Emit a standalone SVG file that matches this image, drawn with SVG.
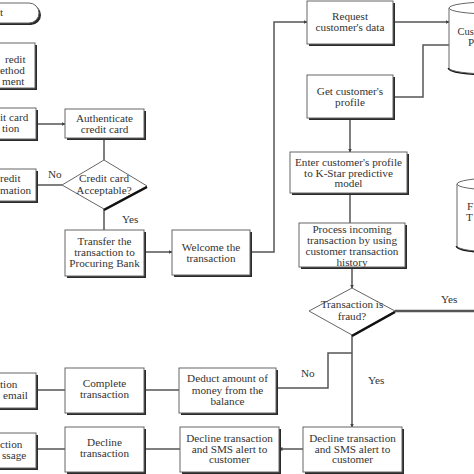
<svg xmlns="http://www.w3.org/2000/svg" width="474" height="474" viewBox="0 0 474 474">
<defs>
<marker id="ar" markerWidth="4" markerHeight="4" refX="3.5" refY="2" orient="auto" markerUnits="userSpaceOnUse"><path d="M0,0 L4,2 L0,4 Z" fill="#444"/></marker>
</defs>
<style>
.box{fill:#fff;stroke:#666;stroke-width:1}
.sh{fill:#2a2a2a}
.t{font-family:"Liberation Serif","Times New Roman",serif;font-size:11.2px;fill:#333;text-anchor:middle}
.s{font-family:"Liberation Serif","Times New Roman",serif;font-size:11.2px;fill:#333}
.c{fill:none;stroke:#555;stroke-width:1.5}
.dsh{fill:none;stroke:#111;stroke-width:2.5}
</style>
<rect width="474" height="474" fill="#fff"/>

<g id="connectors">
<path class="c" d="M36,124 H65" marker-end="url(#ar)"/>
<path class="c" d="M104,138 V160"/>
<path class="c" d="M62,185 H36"/>
<path class="c" d="M104,209 V230"/>
<path class="c" d="M144,252 H172" marker-end="url(#ar)"/>
<path class="c" d="M250,252 H274 V22 H307" marker-end="url(#ar)"/>
<path class="c" d="M393,22 H449" marker-end="url(#ar)"/>
<path class="c" d="M393,97 H423 V45 H449"/>
<path class="c" d="M350,118 V152" marker-end="url(#ar)"/>
<path class="c" d="M350,193 V223"/>
<path class="c" d="M352,267 V288" marker-end="url(#ar)"/>
<path class="c" d="M395,311 H474" style="stroke-width:2.5"/>
<path class="c" d="M352,335 V427" marker-end="url(#ar)"/>
<path class="c" d="M352,353 H328 V388 H276"/>
<path class="c" d="M303,449 H279" marker-end="url(#ar)"/>
<path class="c" d="M179,390 H144"/>
<path class="c" d="M180,449 H144"/>
<path class="c" d="M65,390 H36"/>
<path class="c" d="M65,449 H36"/>
<text class="s" x="48" y="178">No</text>
<text class="s" x="122" y="223">Yes</text>
<text class="s" x="441" y="303">Yes</text>
<text class="s" x="301" y="377">No</text>
<text class="s" x="368" y="384">Yes</text>
</g>

<g id="start">
<rect class="sh" x="-30" y="5" width="71" height="20" rx="10"/>
<rect class="box" x="-30" y="3" width="69" height="20" rx="10"/>
<text class="s" x="0" y="16">t</text>
</g>

<g id="method">
<rect class="sh" x="-58" y="45" width="95" height="45"/>
<rect class="box" x="-60" y="43" width="95" height="45"/>
<text class="s" x="5" y="63">redit</text>
<text class="s" x="0" y="74">ethod</text>
<text class="s" x="2" y="85">ment</text>
</g>

<g id="cardinfo">
<rect class="sh" x="-58" y="110" width="96" height="31"/>
<rect class="box" x="-60" y="108" width="96" height="31"/>
<text class="s" x="0" y="121">it card</text>
<text class="s" x="2" y="132">tion</text>
</g>

<g id="authenticate">
<rect class="sh" x="67" y="111" width="79" height="29"/>
<rect class="box" x="65" y="109" width="79" height="29"/>
<text class="t" x="104.5" y="121.5">Authenticate</text>
<text class="t" x="104.5" y="132.5">credit card</text>
</g>

<g id="acceptable">
<polygon class="box" points="62,185 104,160 147,186 104,209"/>
<polyline class="dsh" points="147,187 104,210"/>
<text class="t" x="104" y="182">Credit card</text>
<text class="t" x="104" y="194">Acceptable?</text>
</g>

<g id="reenter">
<rect class="sh" x="-58" y="171" width="96" height="32"/>
<rect class="box" x="-60" y="169" width="96" height="32"/>
<text class="s" x="0" y="182">redit</text>
<text class="s" x="0" y="194">mation</text>
</g>

<g id="transfer">
<rect class="sh" x="67" y="232" width="79" height="46"/>
<rect class="box" x="65" y="230" width="79" height="46"/>
<text class="t" x="104.5" y="245">Transfer the</text>
<text class="t" x="104.5" y="255.5">transaction to</text>
<text class="t" x="104.5" y="266.5">Procuring Bank</text>
</g>

<g id="welcome">
<rect class="sh" x="174" y="232" width="78" height="45"/>
<rect class="box" x="172" y="230" width="78" height="45"/>
<text class="t" x="211" y="251">Welcome the</text>
<text class="t" x="211" y="261.5">transaction</text>
</g>

<g id="request">
<rect class="sh" x="309" y="3" width="86" height="43"/>
<rect class="box" x="307" y="1" width="86" height="43"/>
<text class="t" x="350" y="20">Request</text>
<text class="t" x="350" y="30.5">customer's data</text>
</g>

<g id="profiledb">
<path d="M449,68 A42,6 0 0 0 533,68" fill="none" stroke="#111" stroke-width="3"/>
<path class="box" d="M449,8 V68 A42,6 0 0 0 533,68 V8 A42,6 0 0 0 449,8 Z"/>
<path class="box" d="M449,8 A42,6 0 0 0 533,8" fill="none"/>
<text class="s" x="457.5" y="34.5" style="font-size:10.5px">Cus</text>
<text class="s" x="468" y="45.5">P</text>
</g>

<g id="getprofile">
<rect class="sh" x="309" y="77" width="86" height="43"/>
<rect class="box" x="307" y="75" width="86" height="43"/>
<text class="t" x="350" y="95">Get customer's</text>
<text class="t" x="350" y="105.5">profile</text>
</g>

<g id="enter">
<rect class="sh" x="292" y="154" width="117" height="41"/>
<rect class="box" x="290" y="152" width="117" height="41"/>
<text class="t" x="348.5" y="166">Enter customer's profile</text>
<text class="t" x="348.5" y="176.5">to K-Star predictive</text>
<text class="t" x="348.5" y="187">model</text>
</g>

<g id="process">
<rect class="sh" x="301" y="225" width="106" height="44"/>
<rect class="box" x="299" y="223" width="106" height="44"/>
<text class="t" x="352" y="232.5">Process incoming</text>
<text class="t" x="352" y="243.5">transaction by using</text>
<text class="t" x="352" y="254.5">customer transaction</text>
<text class="t" x="352" y="265.5">history</text>
</g>

<g id="fraud">
<polygon class="box" points="309,311 352,288 395,311 352,335"/>
<polyline class="dsh" points="395,312 352,336"/>
<text class="t" x="352" y="308">Transaction is</text>
<text class="t" x="352" y="320">fraud?</text>
</g>

<g id="frauddb">
<path d="M457,246 A40,6 0 0 0 537,246" fill="none" stroke="#111" stroke-width="3"/>
<path class="box" d="M457,184 V246 A40,6 0 0 0 537,246 V184 A40,6 0 0 0 457,184 Z"/>
<path class="box" d="M457,184 A40,6 0 0 0 537,184" fill="none"/>
<text class="s" x="467" y="210">F</text>
<text class="s" x="466" y="220.5">T</text>
</g>

<g id="complete">
<rect class="sh" x="67" y="370" width="79" height="45"/>
<rect class="box" x="65" y="368" width="79" height="45"/>
<text class="t" x="104.5" y="387">Complete</text>
<text class="t" x="104.5" y="398">transaction</text>
</g>

<g id="deduct">
<rect class="sh" x="181" y="370" width="97" height="45"/>
<rect class="box" x="179" y="368" width="97" height="45"/>
<text class="t" x="227.5" y="382">Deduct amount of</text>
<text class="t" x="227.5" y="394">money from the</text>
<text class="t" x="227.5" y="405">balance</text>
</g>

<g id="email">
<rect class="sh" x="-58" y="375" width="96" height="35"/>
<rect class="box" x="-60" y="373" width="96" height="35"/>
<text class="s" x="0" y="388">tion</text>
<text class="s" x="3" y="399">email</text>
</g>

<g id="decline">
<rect class="sh" x="67" y="429" width="79" height="45"/>
<rect class="box" x="65" y="427" width="79" height="45"/>
<text class="t" x="104.5" y="446">Decline</text>
<text class="t" x="104.5" y="457">transaction</text>
</g>

<g id="declinesms1">
<rect class="sh" x="182" y="429" width="99" height="45"/>
<rect class="box" x="180" y="427" width="99" height="45"/>
<text class="t" x="229.5" y="442">Decline transaction</text>
<text class="t" x="229.5" y="452.5">and  SMS alert to</text>
<text class="t" x="229.5" y="463">customer</text>
</g>

<g id="declinesms2">
<rect class="sh" x="305" y="429" width="99" height="45"/>
<rect class="box" x="303" y="427" width="99" height="45"/>
<text class="t" x="352.5" y="442">Decline transaction</text>
<text class="t" x="352.5" y="452.5">and  SMS alert to</text>
<text class="t" x="352.5" y="463">customer</text>
</g>

<g id="message">
<rect class="sh" x="-58" y="435" width="96" height="35"/>
<rect class="box" x="-60" y="433" width="96" height="35"/>
<text class="s" x="0" y="448">ction</text>
<text class="s" x="2" y="459">ssage</text>
</g>
</svg>
